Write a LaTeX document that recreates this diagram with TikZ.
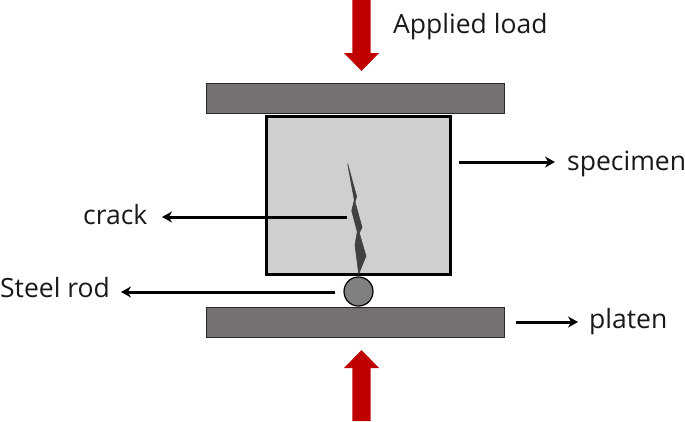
\documentclass[tikz,border=0pt]{standalone}
\usepackage{fontspec}
\setmainfont{Open Sans}
\usetikzlibrary{arrows.meta}
\definecolor{plategray}{HTML}{767171}
\definecolor{specgray}{HTML}{D0CECE}
\definecolor{rodgray}{HTML}{808080}
\definecolor{crackgray}{HTML}{404040}
\definecolor{loadred}{HTML}{C00000}
\tikzset{
  x=1pt,y=-1pt,
  plate/.style={draw=black!85,line width=1.2pt,fill=plategray,minimum width=298pt,minimum height=30pt,inner sep=0pt},
  specimenbox/.style={draw=black,line width=2.6pt,fill=specgray,minimum width=184pt,minimum height=158pt,inner sep=0pt},
  rod/.style={circle,draw=black,line width=1.2pt,fill=rodgray,minimum size=29pt,inner sep=0pt},
  lbl/.style={font=\fontsize{26.5pt}{30pt}\selectfont,text=black!90,inner sep=0pt},
  pointer/.style={draw=black,line width=3pt,-{Stealth[length=10pt,width=11pt]}},
  loadarrow/.style={fill=loadred,draw=none},
  crackshape/.style={fill=crackgray,draw=crackgray,line width=0.6pt,line join=round},
}
\begin{document}
\begin{tikzpicture}
\useasboundingbox (0,0) rectangle (685,421);
\node[plate] (topplate) at (355.5,98.5) {};
\node[plate] (botplate) at (355.5,322.5) {};
\node[specimenbox] (spec) at (358.5,195.5) {};
\node[rod] (steel) at (358.5,291.5) {};
\path[crackshape] (347.7,164) -- (356.7,196.7) -- (355,201.7) -- (362,227.3) -- (359.3,233) -- (366,256) -- (358.7,274) -- (355,245) -- (357.3,231.7) -- (351.7,210.7) -- (354.3,200) -- cycle;
\fill[loadarrow] (352.3,0) -- (370.7,0) -- (370.7,53) -- (379,53) -- (361.5,71) -- (344,53) -- (352.3,53) -- cycle;
\fill[loadarrow] (352.3,421) -- (370.7,421) -- (370.7,368) -- (379,368) -- (361.5,350) -- (344,368) -- (352.3,368) -- cycle;
\node[lbl,anchor=base west] (tload) at (393,33) {Applied load};
\node[lbl,anchor=base west] (tspec) at (567,170) {specimen};
\node[lbl,anchor=base west] (tcrack) at (83,224) {crack};
\node[lbl,anchor=base west] (trod) at (0,297) {Steel rod};
\node[lbl,anchor=base west] (tplaten) at (589,328) {platen};
\coordinate (a1) at (459,162); \coordinate (a2) at (555,162);
\coordinate (b1) at (347,217); \coordinate (b2) at (162,217);
\coordinate (c1) at (335,292); \coordinate (c2) at (121,292);
\coordinate (d1) at (516,322); \coordinate (d2) at (578,322);
\draw[pointer] (a1) -- (a2);
\draw[pointer] (b1) -- (b2);
\draw[pointer] (c1) -- (c2);
\draw[pointer] (d1) -- (d2);
\end{tikzpicture}
\end{document}
